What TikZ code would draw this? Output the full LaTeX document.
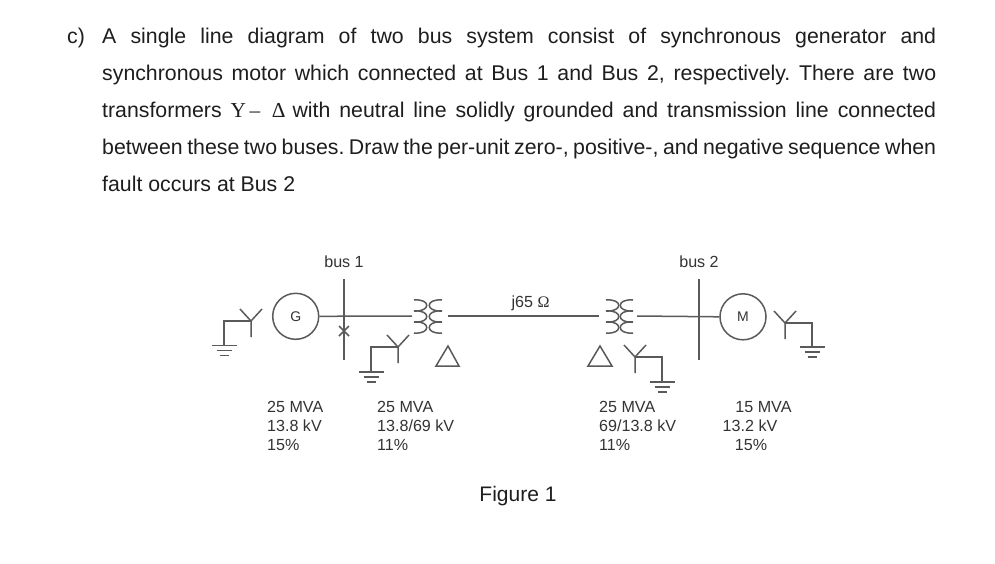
\documentclass[tikz,border=0pt]{standalone}
\usepackage{fontspec}
\setmainfont{Liberation Sans}
\newfontfamily\symfont{Liberation Serif}
\newcommand{\bodysize}{\fontsize{21.3}{25}\selectfont}
\newcommand{\labsize}{\fontsize{16.1}{19}\selectfont}
\newcommand{\jline}[1]{\makebox[834pt][s]{\frenchspacing #1}}
\definecolor{wire}{HTML}{5A5A5A}
\definecolor{ink}{HTML}{1E1E1E}
\definecolor{lab}{HTML}{333333}
\tikzset{
  body/.style={anchor=base west,inner sep=0pt,text=ink,font=\bodysize},
  lab/.style={anchor=base west,inner sep=0pt,text=lab,font=\labsize},
  labc/.style={anchor=base,inner sep=0pt,text=lab,font=\labsize},
  mach/.style={circle,draw=wire,line width=1.5pt,minimum size=46pt,inner sep=0pt,text=lab,font=\fontsize{14}{16}\selectfont},
  wirel/.style={draw=wire,line width=1.5pt},
  coil/.pic={\draw[wirel] (0,0) .. controls (17,-1.5) and (17,12) .. (0,11)
     .. controls (17,9.5) and (17,23.5) .. (0,22)
     .. controls (17,20.5) and (17,34.5) .. (0,33);},
  coilr/.pic={\draw[wirel] (0,0) .. controls (-17,-1.5) and (-17,12) .. (0,11)
     .. controls (-17,9.5) and (-17,23.5) .. (0,22)
     .. controls (-17,20.5) and (-17,34.5) .. (0,33);},
  wye/.pic={\draw[wirel] (-11,-12) -- (0,0) -- (11,-12) (0,0) -- (0,16);},
  gnd/.pic={\draw[wirel] (-12.5,0) -- (12.5,0) (-7.5,5) -- (7.5,5);
     \draw[wirel] (-4.5,10) -- (4.5,10);},
  tridelta/.style={draw=wire,line width=1.5pt,line join=miter}
}
\begin{document}
\begin{tikzpicture}[x=1pt,y=-1pt]
\useasboundingbox (0,0) rectangle (995,563);
\fill[white] (0,0) rectangle (995,563);
% question text
\node[body] (q0) at (67,43) {c)};
\node[body] (q1) at (102,43) {\jline{A single line diagram of two bus system consist of synchronous generator and}};
\node[body] (q2) at (102,80) {\jline{synchronous motor which connected at Bus 1 and Bus 2, respectively. There are two}};
\node[body] (q3) at (102,117) {\jline{transformers {\symfont Y\,–\, Δ}\kern-2pt\ with neutral line solidly grounded and transmission line connected}};
\node[body] (q4) at (102,154) {\jline{between these two buses. Draw the per-unit zero-, positive-, and negative sequence when}};
\node[body] (q5) at (102,191) {fault occurs at Bus 2};
% machines
\node[mach] (G) at (295.7,316.3) {G};
\node[mach] (M) at (743,316.8) {M};
% buses
\coordinate (b1t) at (344,279); \coordinate (b1b) at (344,360);
\coordinate (b2t) at (699,279); \coordinate (b2b) at (699,360);
\draw[wirel] (b1t) -- (b1b);
\draw[wirel] (b2t) -- (b2b);
\node[labc] (bus1) at (344,267) {bus 1};
\node[labc] (bus2) at (699,267) {bus 2};
% transformer terminals
\coordinate (t1l) at (412,316); \coordinate (t1r) at (448,316);
\coordinate (t2l) at (599,316); \coordinate (t2r) at (637,316);
\draw[wirel] (G.east) -- (t1l);
\draw[wirel] (t1r) -- (t2l);
\draw[wirel] (t2r) -- (M.west);
\path (414,300) pic {coil};
\path (442,300) pic {coilr};
\path (606,300) pic {coil};
\path (633,300) pic {coilr};
\node[labc] (j65) at (530.5,307) {j65 {\symfont Ω}};
% breaker cross
\coordinate (xa) at (339,326); \coordinate (xb) at (349,336);
\coordinate (xc) at (339,336); \coordinate (xd) at (349,326);
\draw[wirel] (xa) -- (xb) (xc) -- (xd);
% generator wye
\coordinate (yg) at (251,321); \coordinate (ygn) at (224,321); \coordinate (ygg) at (224,345.5);
\path (yg) pic {wye};
\draw[wirel] (yg) -- (ygn) -- (ygg);
\path (ygg) pic {gnd};
% T1 wye
\coordinate (y1) at (398,347); \coordinate (y1n) at (371,347); \coordinate (y1g) at (371,372);
\path (y1) pic {wye};
\draw[wirel] (y1) -- (y1n) -- (y1g);
\path (y1g) pic {gnd};
\draw[tridelta] (448,346) -- (459,366) -- (436,366) -- cycle;
% T2 wye
\coordinate (y2) at (635,357); \coordinate (y2n) at (662,357); \coordinate (y2g) at (662,382);
\path (y2) pic {wye};
\draw[wirel] (y2) -- (y2n) -- (y2g);
\path (y2g) pic {gnd};
\draw[tridelta] (600,346) -- (612,366) -- (588,366) -- cycle;
% motor wye
\coordinate (ym) at (785,323); \coordinate (ymn) at (812,323); \coordinate (ymg) at (812,347);
\path (ym) pic {wye};
\draw[wirel] (ym) -- (ymn) -- (ymg);
\path (ymg) pic {gnd};
% ratings
\node[lab] (a1) at (267,412) {25 MVA};
\node[lab] (a2) at (267,431) {13.8 kV};
\node[lab] (a3) at (267,450) {15\%};
\node[lab] (b1) at (377,412) {25 MVA};
\node[lab] (b2) at (377,431) {13.8/69 kV};
\node[lab] (b3) at (377,450) {11\%};
\node[lab] (c1) at (599,412) {25 MVA};
\node[lab] (c2) at (599,431) {69/13.8 kV};
\node[lab] (c3) at (599,450) {11\%};
\node[labc] (d1) at (763.5,412) {15 MVA};
\node[labc] (d2) at (750,431) {13.2 kV};
\node[labc] (d3) at (751,450) {15\%};
\node[body,anchor=base,font=\fontsize{21}{25}\selectfont] (fig) at (518,501) {Figure 1};
\end{tikzpicture}
\end{document}
